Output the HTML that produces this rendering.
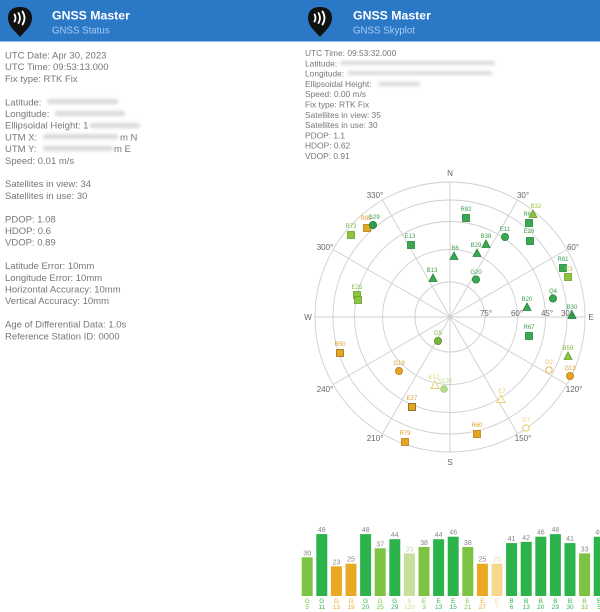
<!DOCTYPE html>
<html><head><meta charset="utf-8">
<style>
html,body{margin:0;padding:0;background:#fff;}
body{width:600px;height:612px;overflow:hidden;position:relative;font-family:"Liberation Sans",sans-serif;}
svg{position:absolute;left:0;top:0;}
.b{position:absolute;height:5px;background:#d9d9d9;filter:blur(1.5px);border-radius:2px;}
</style></head><body>
<svg width="600" height="612" viewBox="0 0 600 612" xmlns="http://www.w3.org/2000/svg" font-family="Liberation Sans, sans-serif">
<rect x="0" y="0" width="600" height="41" fill="#2b78c6"/>
<rect x="0" y="41" width="600" height="1" fill="#8fbce8"/>
<g>
<path d="M20,37 C15,31 8,26 8,18 C8,10.5 13,7 20,7 C27,7 32,10.5 32,18 C32,26 25,31 20,37 Z" fill="#111"/>
<path d="M14.5,14.5 Q16.5,18 14.5,21.5" stroke="#fff" stroke-width="1.8" fill="none" stroke-linecap="round"/>
<path d="M18.5,13 Q21.5,18 18.5,23" stroke="#fff" stroke-width="1.8" fill="none" stroke-linecap="round"/>
<path d="M22.5,11.5 Q26.5,18 22.5,24.5" stroke="#fff" stroke-width="1.8" fill="none" stroke-linecap="round"/>
</g>
<g transform="translate(300,0)">
<path d="M20,37 C15,31 8,26 8,18 C8,10.5 13,7 20,7 C27,7 32,10.5 32,18 C32,26 25,31 20,37 Z" fill="#111"/>
<path d="M14.5,14.5 Q16.5,18 14.5,21.5" stroke="#fff" stroke-width="1.8" fill="none" stroke-linecap="round"/>
<path d="M18.5,13 Q21.5,18 18.5,23" stroke="#fff" stroke-width="1.8" fill="none" stroke-linecap="round"/>
<path d="M22.5,11.5 Q26.5,18 22.5,24.5" stroke="#fff" stroke-width="1.8" fill="none" stroke-linecap="round"/>
</g>
<text x="52" y="19.5" font-size="12.3" font-weight="bold" fill="#fff">GNSS Master</text>
<text x="52" y="33.5" font-size="9.7" fill="#a8cdf2">GNSS Status</text>
<text x="353" y="19.5" font-size="12.3" font-weight="bold" fill="#fff">GNSS Master</text>
<text x="353" y="33.5" font-size="9.7" fill="#a8cdf2">GNSS Skyplot</text>

<g font-size="9.5" fill="#777">
<text x="5" y="58.5">UTC Date: Apr 30, 2023</text>
<text x="5" y="70.2">UTC Time: 09:53:13.000</text>
<text x="5" y="81.9">Fix type: RTK Fix</text>
<text x="5" y="105.3">Latitude:</text>
<text x="5" y="117">Longitude:</text>
<text x="5" y="128.7">Ellipsoidal Height: 1</text>
<text x="5" y="140.4">UTM X:</text>
<text x="120" y="140.4">m N</text>
<text x="5" y="152.1">UTM Y:</text>
<text x="114" y="152.1">m E</text>
<text x="5" y="163.8">Speed: 0.01 m/s</text>
<text x="5" y="187.2">Satellites in view: 34</text>
<text x="5" y="198.9">Satellites in use: 30</text>
<text x="5" y="222.3">PDOP: 1.08</text>
<text x="5" y="234">HDOP: 0.6</text>
<text x="5" y="245.7">VDOP: 0.89</text>
<text x="5" y="269.1">Latitude Error: 10mm</text>
<text x="5" y="280.8">Longitude Error: 10mm</text>
<text x="5" y="292.5">Horizontal Accuracy: 10mm</text>
<text x="5" y="304.2">Vertical Accuracy: 10mm</text>
<text x="5" y="327.6">Age of Differential Data: 1.0s</text>
<text x="5" y="339.3">Reference Station ID: 0000</text>
</g>

<g font-size="8.4" fill="#777">
<text x="305" y="56">UTC Time: 09:53:32.000</text>
<text x="305" y="66.3">Latitude:</text>
<text x="305" y="76.6">Longitude:</text>
<text x="305" y="86.9">Ellipsoidal Height:</text>
<text x="305" y="97.2">Speed: 0.00 m/s</text>
<text x="305" y="107.5">Fix type: RTK Fix</text>
<text x="305" y="117.8">Satellites in view: 35</text>
<text x="305" y="128.1">Satellites in use: 30</text>
<text x="305" y="138.4">PDOP: 1.1</text>
<text x="305" y="148.7">HDOP: 0.62</text>
<text x="305" y="159">VDOP: 0.91</text>
</g>

<g stroke="#cfcfcf" stroke-width="0.9" fill="none">
<circle cx="450" cy="317" r="135"/>
<circle cx="450" cy="317" r="117"/>
<circle cx="450" cy="317" r="95.5"/>
<circle cx="450" cy="317" r="67.5"/>
<circle cx="450" cy="317" r="35"/>
<line x1="450" y1="317" x2="450" y2="182"/>
<line x1="450" y1="317" x2="517.5" y2="200.1"/>
<line x1="450" y1="317" x2="566.9" y2="249.5"/>
<line x1="450" y1="317" x2="585" y2="317"/>
<line x1="450" y1="317" x2="566.9" y2="384.5"/>
<line x1="450" y1="317" x2="517.5" y2="433.9"/>
<line x1="450" y1="317" x2="450" y2="452"/>
<line x1="450" y1="317" x2="382.5" y2="433.9"/>
<line x1="450" y1="317" x2="333.1" y2="384.5"/>
<line x1="450" y1="317" x2="315" y2="317"/>
<line x1="450" y1="317" x2="333.1" y2="249.5"/>
<line x1="450" y1="317" x2="382.5" y2="200.1"/>
</g>
<g font-size="8" fill="#666" text-anchor="middle">
<text x="450" y="176">N</text>
<text x="523" y="198">30°</text>
<text x="573" y="250">60°</text>
<text x="591" y="320">E</text>
<text x="574" y="392">120°</text>
<text x="523" y="441">150°</text>
<text x="450" y="465">S</text>
<text x="375" y="441">210°</text>
<text x="325" y="392">240°</text>
<text x="308" y="320">W</text>
<text x="325" y="250">300°</text>
<text x="375" y="198">330°</text>
<text x="486" y="316">75°</text>
<text x="517" y="316">60°</text>
<text x="547" y="316">45°</text>
<text x="567" y="316">30°</text>
</g>

<g font-size="6" text-anchor="middle" stroke-width="0.8">
<rect x="363.5" y="224.5" width="7" height="7" fill="#e6a521" stroke="#b58016"/><text x="366" y="220" fill="#e0a028" stroke="none">R83</text>
<circle cx="373" cy="225" r="3.6" fill="#2f9e4a" stroke="#20793a"/><text x="374" y="219" fill="#3a9e50" stroke="none">G29</text>
<rect x="462.5" y="214.5" width="7" height="7" fill="#3aa852" stroke="#25843c"/><text x="466" y="211" fill="#3a9e50" stroke="none">R82</text>
<rect x="347.5" y="231.5" width="7" height="7" fill="#8cc63f" stroke="#6b9c2c"/><text x="351" y="228" fill="#84bb3c" stroke="none">R73</text>
<rect x="407.5" y="241.5" width="7" height="7" fill="#3aa852" stroke="#25843c"/><text x="410" y="238" fill="#3a9e50" stroke="none">E13</text>
<path d="M486,240 L490,247.5 L482,247.5 Z" fill="#3aa852" stroke="#25843c"/><text x="486" y="238" fill="#3a9e50" stroke="none">B38</text>
<circle cx="505" cy="237" r="3.6" fill="#3aa852" stroke="#25843c"/><text x="505" y="231" fill="#3a9e50" stroke="none">E11</text>
<rect x="525.5" y="219.5" width="7" height="7" fill="#3aa852" stroke="#25843c"/><text x="529" y="216" fill="#3a9e50" stroke="none">R66</text>
<path d="M533,210 L537,217.5 L529,217.5 Z" fill="#8cc63f" stroke="#6b9c2c"/><text x="536" y="208" fill="#a0c840" stroke="none">B32</text>
<rect x="526.5" y="237.5" width="7" height="7" fill="#3aa852" stroke="#25843c"/><text x="529" y="233" fill="#3a9e50" stroke="none">E26</text>
<path d="M454,252 L458,259.5 L450,259.5 Z" fill="#3aa852" stroke="#25843c"/><text x="455" y="250" fill="#3a9e50" stroke="none">B6</text>
<path d="M477,249 L481,256.5 L473,256.5 Z" fill="#3aa852" stroke="#25843c"/><text x="476" y="247" fill="#3a9e50" stroke="none">B29</text>
<path d="M433,274 L437,281.5 L429,281.5 Z" fill="#3aa852" stroke="#25843c"/><text x="432" y="272" fill="#3a9e50" stroke="none">B13</text>
<circle cx="476" cy="279.5" r="3.6" fill="#3aa852" stroke="#25843c"/><text x="476" y="274" fill="#3a9e50" stroke="none">G20</text>
<rect x="559.5" y="264.5" width="7" height="7" fill="#3aa852" stroke="#25843c"/><text x="563" y="261" fill="#3a9e50" stroke="none">R81</text>
<rect x="564.5" y="273.5" width="7" height="7" fill="#8cc63f" stroke="#6b9c2c"/><text x="569" y="271" fill="#a0c840" stroke="none">E3</text>
<circle cx="553" cy="298.5" r="3.6" fill="#3aa852" stroke="#25843c"/><text x="553" y="293" fill="#3a9e50" stroke="none">Q4</text>
<path d="M527,303 L531,310.5 L523,310.5 Z" fill="#3aa852" stroke="#25843c"/><text x="527" y="301" fill="#3a9e50" stroke="none">B20</text>
<path d="M572,311 L576,318.5 L568,318.5 Z" fill="#2f9e4a" stroke="#20793a"/><text x="572" y="309" fill="#3a9e50" stroke="none">B30</text>
<rect x="353.5" y="291.5" width="7" height="7" fill="#8cc63f" stroke="#6b9c2c"/>
<rect x="354.5" y="296.5" width="7" height="7" fill="#8cc63f" stroke="#6b9c2c"/><text x="357" y="289" fill="#84bb3c" stroke="none">E25</text>
<circle cx="438" cy="341" r="3.6" fill="#7ab53e" stroke="#5c8f2c"/><text x="438" y="335" fill="#84bb3c" stroke="none">G5</text>
<rect x="525.5" y="332.5" width="7" height="7" fill="#3aa852" stroke="#25843c"/><text x="529" y="329" fill="#3a9e50" stroke="none">R67</text>
<rect x="336.5" y="349.5" width="7" height="7" fill="#e6a521" stroke="#9a6c10"/><text x="340" y="346" fill="#e0a028" stroke="none">R50</text>
<circle cx="399" cy="371" r="3.6" fill="#e6a521" stroke="#b58016"/><text x="399" y="365" fill="#e0a028" stroke="none">G19</text>
<path d="M568,352 L572,359.5 L564,359.5 Z" fill="#8cc63f" stroke="#6b9c2c"/><text x="568" y="350" fill="#84bb3c" stroke="none">B59</text>
<circle cx="549" cy="370" r="3.2" fill="#fff" stroke="#f0b868" stroke-width="1.2"/><text x="549" y="364" fill="#f0b868" stroke="none">G2</text>
<circle cx="570" cy="376" r="3.6" fill="#e6a521" stroke="#b58016"/><text x="570" y="370" fill="#e0a028" stroke="none">G13</text>
<path d="M435,381 L439,388.5 L431,388.5 Z" fill="#fff" stroke="#e8d070" stroke-width="1"/><text x="434" y="379" fill="#e6d070" stroke="none">E12</text>
<circle cx="444" cy="389" r="3.4" fill="#b8dc8c" stroke="#a0c870"/><text x="445" y="383" fill="#b8d890" stroke="none">S120</text>
<rect x="408.5" y="403.5" width="7" height="7" fill="#e6a521" stroke="#7a5a10"/><text x="412" y="400" fill="#e0a028" stroke="none">E27</text>
<path d="M501,395 L505,402.5 L497,402.5 Z" fill="#fff" stroke="#e8d070" stroke-width="1"/><text x="502" y="393" fill="#e6d070" stroke="none">E7</text>
<rect x="473.5" y="430.5" width="7" height="7" fill="#e6a521" stroke="#b58016"/><text x="477" y="427" fill="#e0a028" stroke="none">R60</text>
<rect x="401.5" y="438.5" width="7" height="7" fill="#e6a521" stroke="#b58016"/><text x="405" y="435" fill="#e0a028" stroke="none">R79</text>
<circle cx="526" cy="428" r="3.2" fill="#fff" stroke="#ecd078" stroke-width="1.2"/><text x="526" y="422" fill="#ecd078" stroke="none">G7</text>
</g>

<g>
<rect x="301.7" y="557.3" width="11" height="38.7" fill="#7cc243"/>
<rect x="316.3" y="534.1" width="11" height="61.9" fill="#2db34c"/>
<rect x="330.9" y="566.3" width="11" height="29.7" fill="#e9a923"/>
<rect x="345.5" y="563.7" width="11" height="32.3" fill="#e9a923"/>
<rect x="360.1" y="534.1" width="11" height="61.9" fill="#2db34c"/>
<rect x="374.7" y="548.3" width="11" height="47.7" fill="#7cc243"/>
<rect x="389.3" y="539.2" width="11" height="56.8" fill="#2db34c"/>
<rect x="403.9" y="553.4" width="11" height="42.6" fill="#c6df9c"/>
<rect x="418.5" y="547" width="11" height="49" fill="#7cc243"/>
<rect x="433.1" y="539.2" width="11" height="56.8" fill="#2db34c"/>
<rect x="447.7" y="536.7" width="11" height="59.3" fill="#2db34c"/>
<rect x="462.3" y="547" width="11" height="49" fill="#7cc243"/>
<rect x="476.9" y="563.7" width="11" height="32.3" fill="#e9a923"/>
<rect x="491.5" y="563.7" width="11" height="32.3" fill="#f4d98c"/>
<rect x="506.1" y="543.1" width="11" height="52.9" fill="#2db34c"/>
<rect x="520.7" y="541.8" width="11" height="54.2" fill="#2db34c"/>
<rect x="535.3" y="536.7" width="11" height="59.3" fill="#2db34c"/>
<rect x="549.9" y="534.1" width="11" height="61.9" fill="#2db34c"/>
<rect x="564.5" y="543.1" width="11" height="52.9" fill="#2db34c"/>
<rect x="579.1" y="553.4" width="11" height="42.6" fill="#7cc243"/>
<rect x="593.7" y="536.7" width="11" height="59.3" fill="#2db34c"/>
</g>
<g font-size="7" fill="#888" text-anchor="middle">
<text x="307.2" y="555.3">30</text>
<text x="321.8" y="532.1">48</text>
<text x="336.4" y="564.3">23</text>
<text x="351" y="561.7">25</text>
<text x="365.6" y="532.1">48</text>
<text x="380.2" y="546.3">37</text>
<text x="394.8" y="537.2">44</text>
<text x="409.4" y="551.4" fill="#c8d8a8">33</text>
<text x="424" y="545">38</text>
<text x="438.6" y="537.2">44</text>
<text x="453.2" y="534.7">46</text>
<text x="467.8" y="545">38</text>
<text x="482.4" y="561.7">25</text>
<text x="497" y="561.7" fill="#eed9a0">25</text>
<text x="511.6" y="541.1">41</text>
<text x="526.2" y="539.8">42</text>
<text x="540.8" y="534.7">46</text>
<text x="555.4" y="532.1">48</text>
<text x="570" y="541.1">41</text>
<text x="584.6" y="551.4">33</text>
<text x="599.2" y="534.7">46</text>
</g>
<g font-size="6.5" text-anchor="middle">
<text x="307.2" y="603" fill="#7cc243">G</text><text x="307.2" y="609" fill="#7cc243">5</text>
<text x="321.8" y="603" fill="#2db34c">G</text><text x="321.8" y="609" fill="#2db34c">11</text>
<text x="336.4" y="603" fill="#e9a923">G</text><text x="336.4" y="609" fill="#e9a923">13</text>
<text x="351" y="603" fill="#e9a923">G</text><text x="351" y="609" fill="#e9a923">19</text>
<text x="365.6" y="603" fill="#2db34c">G</text><text x="365.6" y="609" fill="#2db34c">20</text>
<text x="380.2" y="603" fill="#7cc243">G</text><text x="380.2" y="609" fill="#7cc243">25</text>
<text x="394.8" y="603" fill="#2db34c">G</text><text x="394.8" y="609" fill="#2db34c">29</text>
<text x="409.4" y="603" fill="#c6df9c">S</text><text x="409.4" y="609" fill="#c6df9c">120</text>
<text x="424" y="603" fill="#7cc243">E</text><text x="424" y="609" fill="#7cc243">3</text>
<text x="438.6" y="603" fill="#2db34c">E</text><text x="438.6" y="609" fill="#2db34c">13</text>
<text x="453.2" y="603" fill="#2db34c">E</text><text x="453.2" y="609" fill="#2db34c">15</text>
<text x="467.8" y="603" fill="#7cc243">E</text><text x="467.8" y="609" fill="#7cc243">21</text>
<text x="482.4" y="603" fill="#e9a923">E</text><text x="482.4" y="609" fill="#e9a923">27</text>
<text x="497" y="603" fill="#f4d98c">E</text><text x="497" y="609" fill="#f4d98c">7</text>
<text x="511.6" y="603" fill="#2db34c">B</text><text x="511.6" y="609" fill="#2db34c">6</text>
<text x="526.2" y="603" fill="#2db34c">B</text><text x="526.2" y="609" fill="#2db34c">13</text>
<text x="540.8" y="603" fill="#2db34c">B</text><text x="540.8" y="609" fill="#2db34c">20</text>
<text x="555.4" y="603" fill="#2db34c">B</text><text x="555.4" y="609" fill="#2db34c">29</text>
<text x="570" y="603" fill="#2db34c">B</text><text x="570" y="609" fill="#2db34c">30</text>
<text x="584.6" y="603" fill="#7cc243">B</text><text x="584.6" y="609" fill="#7cc243">32</text>
<text x="599.2" y="603" fill="#2db34c">B</text><text x="599.2" y="609" fill="#2db34c">5</text>
</g>
</svg>
<div class="b" style="left:47px;top:99px;width:71px;"></div>
<div class="b" style="left:55px;top:111px;width:70px;"></div>
<div class="b" style="left:90px;top:123px;width:50px;"></div>
<div class="b" style="left:43px;top:134px;width:75px;"></div>
<div class="b" style="left:43px;top:146px;width:70px;"></div>
<div class="b" style="left:340px;top:61px;width:155px;height:4px;"></div>
<div class="b" style="left:348px;top:71px;width:144px;height:4px;"></div>
<div class="b" style="left:378px;top:82px;width:42px;height:4px;"></div>
</body></html>
